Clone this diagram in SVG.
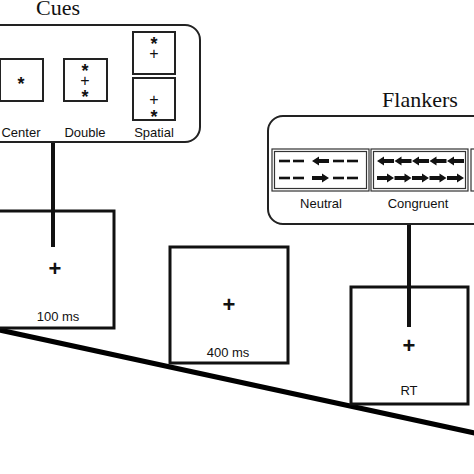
<svg xmlns="http://www.w3.org/2000/svg" xmlns:xlink="http://www.w3.org/1999/xlink" width="474" height="474" viewBox="0 0 474 474">
<style>
.title{font-family:"Liberation Serif",serif;font-size:22px;fill:#111;text-anchor:middle}
.lbl{font-family:"Liberation Sans",Arial,sans-serif;font-size:13px;fill:#111;text-anchor:middle}
.sym{font-family:"Liberation Sans",Arial,sans-serif;font-size:16px;fill:#111;text-anchor:middle}
.ast{font-size:18px;font-weight:bold}
.fix{font-family:"Liberation Sans",Arial,sans-serif;font-size:22px;font-weight:bold;fill:#111;text-anchor:middle}
.panel{fill:#fff;stroke:#222;stroke-width:2}
.cuebox{fill:#fff;stroke:#222;stroke-width:2}
.frame{fill:#fff;stroke:#111;stroke-width:3}
.fpanel{fill:#fff;stroke:#333;stroke-width:1.2}
.conn{stroke:#111;stroke-width:4;fill:none}
</style>
<defs>
<path id="la" d="M0,0 L7,-4.5 L7,-2 L17,-2 L17,2 L7,2 L7,4.5 Z" fill="#111"/>
<path id="ra" d="M17,0 L10,-4.5 L10,-2 L0,-2 L0,2 L10,2 L10,4.5 Z" fill="#111"/>
<rect id="dash" x="0" y="-1.3" width="11" height="2.6" fill="#111"/>
</defs>

<g id="timeline">
<line x1="-10" y1="328" x2="484" y2="435" stroke="#000" stroke-width="5"/>
</g>

<g id="connectors">
<line class="conn" x1="53" y1="142" x2="53" y2="247"/>
<line class="conn" x1="409" y1="224" x2="409" y2="327"/>
</g>

<g id="cues">
<text class="title" x="58" y="15">Cues</text>
<rect class="panel" x="-20" y="25" width="220" height="117" rx="15"/>
<rect class="cuebox" x="0" y="59" width="43" height="42"/>
<text class="sym"><tspan class="ast" x="21" y="90">*</tspan></text>
<text class="lbl" x="21" y="137">Center</text>
<rect class="cuebox" x="64" y="59" width="43" height="42"/>
<text class="sym"><tspan class="ast" x="85" y="77">*</tspan><tspan x="85" y="86">+</tspan><tspan class="ast" x="85" y="103">*</tspan></text>
<text class="lbl" x="85" y="137">Double</text>
<rect class="cuebox" x="133" y="32" width="42" height="42"/>
<text class="sym"><tspan class="ast" x="154" y="50">*</tspan><tspan x="154" y="59">+</tspan></text>
<rect class="cuebox" x="133" y="78" width="42" height="42"/>
<text class="sym"><tspan x="154" y="105">+</tspan><tspan class="ast" x="154" y="123">*</tspan></text>
<text class="lbl" x="154" y="137">Spatial</text>
</g>

<g id="flankers">
<text class="title" x="420" y="107">Flankers</text>
<rect class="panel" x="268" y="116" width="240" height="108" rx="15"/>
<rect class="fpanel" x="272" y="149" width="97" height="42"/>
<rect class="fpanel" x="274.5" y="151.5" width="92" height="37"/>
<use xlink:href="#dash" x="279" y="161"/>
<use xlink:href="#dash" x="293" y="161"/>
<use xlink:href="#la" x="312" y="161"/>
<use xlink:href="#dash" x="333" y="161"/>
<use xlink:href="#dash" x="347" y="161"/>
<use xlink:href="#dash" x="279" y="178"/>
<use xlink:href="#dash" x="293" y="178"/>
<use xlink:href="#ra" x="312" y="178"/>
<use xlink:href="#dash" x="333" y="178"/>
<use xlink:href="#dash" x="347" y="178"/>
<text class="lbl" x="321" y="208">Neutral</text>
<rect class="fpanel" x="371" y="149" width="97" height="42"/>
<rect class="fpanel" x="373.5" y="151.5" width="92" height="37"/>
<use xlink:href="#la" x="377" y="161"/>
<use xlink:href="#la" x="394.5" y="161"/>
<use xlink:href="#la" x="412" y="161"/>
<use xlink:href="#la" x="429.5" y="161"/>
<use xlink:href="#la" x="447" y="161"/>
<use xlink:href="#ra" x="377" y="178"/>
<use xlink:href="#ra" x="394.5" y="178"/>
<use xlink:href="#ra" x="412" y="178"/>
<use xlink:href="#ra" x="429.5" y="178"/>
<use xlink:href="#ra" x="447" y="178"/>
<text class="lbl" x="418" y="208">Congruent</text>
<rect class="fpanel" x="471" y="149" width="40" height="42"/>
</g>

<g id="box100">
<rect class="frame" x="-20" y="211" width="134" height="117"/>
<text class="fix" x="55" y="276">+</text>
<text class="lbl" x="58" y="321">100 ms</text>
</g>

<g id="box400">
<rect class="frame" x="170" y="247" width="118" height="116"/>
<text class="fix" x="229" y="312">+</text>
<text class="lbl" x="228" y="357">400 ms</text>
</g>

<g id="boxRT">
<rect class="frame" x="351" y="287" width="117" height="117"/>
<text class="fix" x="409" y="353">+</text>
<text class="lbl" x="409" y="395">RT</text>
</g>
<line class="conn" x1="53" y1="208" x2="53" y2="247"/>
<line class="conn" x1="409" y1="284" x2="409" y2="327"/>
</svg>
